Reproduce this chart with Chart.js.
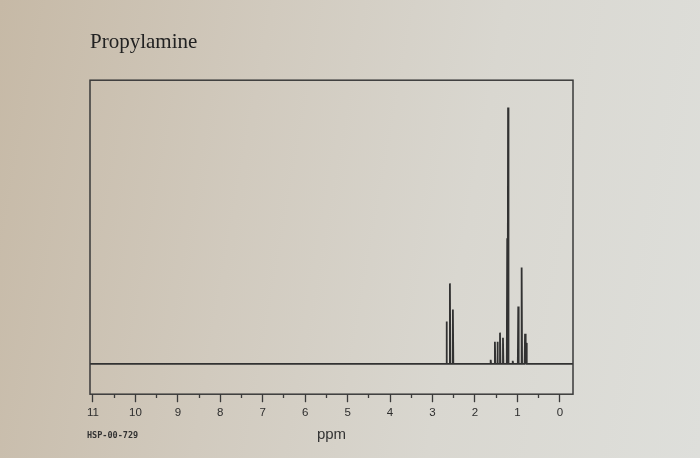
<!DOCTYPE html>
<html>
<head>
<meta charset="utf-8">
<title>Propylamine</title>
<script src="https://cdn.jsdelivr.net/npm/chart.js@4.4.1/dist/chart.umd.min.js"></script>
<style>
  html, body { margin: 0; padding: 0; }
  body {
    width: 700px; height: 458px; overflow: hidden;
    background: linear-gradient(100deg, #c6b9a6 0%, #d1cabe 35%, #d9d7d0 65%, #dedfdb 100%);
  }
  #wrap { position: relative; width: 700px; height: 458px; }
</style>
</head>
<body>
<div id="wrap"><canvas id="nmrChart"></canvas></div>
<script>
// line positions (ppm) and heights (tallest = 100)
const peakPpm    = [2.67, 2.59, 2.52, 1.63, 1.53, 1.47, 1.41, 1.34, 1.24, 1.22, 1.11, 0.98, 0.90, 0.82, 0.79];
const peakHeight = [16.5, 31.4, 21.2, 1.6, 8.6, 8.6, 12.2, 10.2, 49, 100, 1.2, 22.4, 37.6, 11.8, 8.2];
const majorTicks = [11, 10, 9, 8, 7, 6, 5, 4, 3, 2, 1, 0];
const minorTicks = [10.5, 9.5, 8.5, 7.5, 6.5, 5.5, 4.5, 3.5, 2.5, 1.5, 0.5];
const ppmMin = -0.31, ppmMax = 11.07;
const yMin = -11.8, yMax = 110.6;
const sampleCode = 'HSP-00-729';

// each line is a thin stick standing on the baseline
const halfWidth = 0.01;
const spectrum = [{ x: ppmMax, y: 0 }];
peakPpm.forEach((p, i) => {
    spectrum.push({ x: p + halfWidth, y: 0 }, { x: p, y: peakHeight[i] }, { x: p - halfWidth, y: 0 });
});
spectrum.push({ x: ppmMin, y: 0 });

const ink = '#323232';

const framePlugin = {
    id: 'frame',
    afterDatasetsDraw(chart) {
        const { ctx, chartArea: a } = chart;
        ctx.save();
        ctx.strokeStyle = '#3a3a3a';
        ctx.lineWidth = 1.5;
        ctx.strokeRect(a.left, a.top, a.right - a.left, a.bottom - a.top);
        ctx.restore();
    }
};

const codePlugin = {
    id: 'code',
    afterDraw(chart) {
        const { ctx, chartArea: a } = chart;
        ctx.save();
        ctx.fillStyle = '#333';
        ctx.font = 'bold 8.5px "DejaVu Sans Mono"';
        ctx.textBaseline = 'middle';
        ctx.fillText(sampleCode, a.left - 3, a.bottom + 42);
        ctx.restore();
    }
};

const ctx = document.getElementById('nmrChart').getContext('2d');
const nmrChart = new Chart(ctx, {
    type: 'scatter',
    data: {
        datasets: [{
            data: spectrum,
            showLine: true,
            borderColor: ink,
            borderWidth: 1.8,
            pointRadius: 0,
            tension: 0
        }]
    },
    options: {
        responsive: true,
        maintainAspectRatio: false,
        animation: false,
        layout: { padding: { left: 90, right: 127, top: 0, bottom: 14 } },
        plugins: {
            legend: { display: false },
            tooltip: { enabled: false },
            title: {
                display: true,
                text: 'Propylamine',
                align: 'start',
                color: '#222',
                font: { family: '"Liberation Serif", serif', size: 21, weight: 'normal', lineHeight: 1.2 },
                padding: { top: 30, bottom: 25 }
            }
        },
        scales: {
            x: {
                type: 'linear',
                reverse: true,
                min: ppmMin,
                max: ppmMax,
                afterBuildTicks: scale => { scale.ticks = majorTicks.map(v => ({ value: v })); },
                ticks: {
                    color: '#2e2e2e',
                    padding: 4,
                    maxRotation: 0,
                    autoSkip: false,
                    font: { family: '"Liberation Sans", Arial, sans-serif', size: 11.5 }
                },
                grid: { drawOnChartArea: false, tickLength: 8, tickColor: '#3a3a3a', tickWidth: 1.3 },
                border: { display: false },
                title: {
                    display: true,
                    text: 'ppm',
                    color: '#333',
                    font: { family: '"Liberation Sans", Arial, sans-serif', size: 15 },
                    padding: { top: 2, bottom: 0 }
                }
            },
            xMinor: {
                type: 'linear',
                axis: 'x',
                reverse: true,
                min: ppmMin,
                max: ppmMax,
                position: { y: yMin },
                afterBuildTicks: scale => { scale.ticks = minorTicks.map(v => ({ value: v })); },
                ticks: { display: false },
                grid: { drawOnChartArea: false, tickLength: 4, tickColor: '#3a3a3a', tickWidth: 1.3 },
                border: { display: false }
            },
            y: {
                display: false,
                min: yMin,
                max: yMax
            }
        }
    },
    plugins: [framePlugin, codePlugin]
});
</script>
</body>
</html>
